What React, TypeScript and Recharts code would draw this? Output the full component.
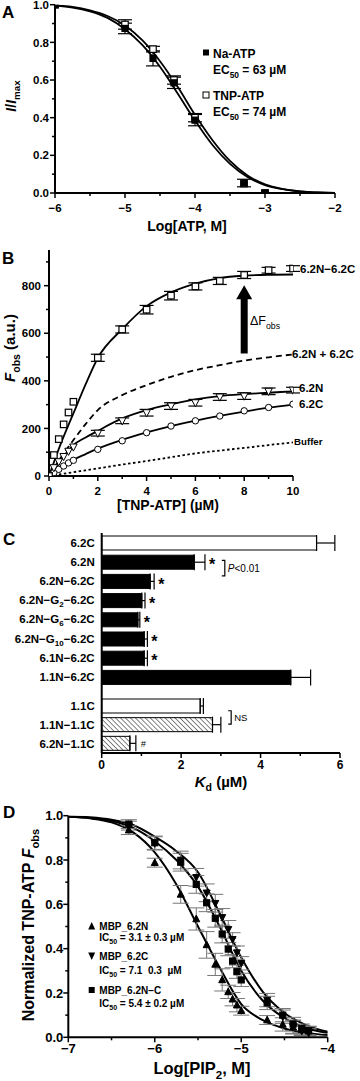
import React from "react";
import {
  ComposedChart,
  BarChart,
  Bar,
  Cell,
  Line,
  Scatter,
  XAxis,
  YAxis,
  ErrorBar,
  ReferenceLine,
  ReferenceDot,
} from "recharts";

const FONT = "'Liberation Sans', Arial, Helvetica, sans-serif";

// ---- A: current inhibition vs log[ATP] ----
const atpLog = [-6, -5, -4.6, -4.3, -4, -3.3, -3];
const naAtp = [1.0, 0.874, 0.715, 0.585, 0.387, 0.053, 0.0];
const naAtpErr = [0, 0.028, 0.04, 0.03, 0.03, 0.02, 0];
const tnpAtp = [1.0, 0.895, 0.764, 0.6, 0.4, 0.05, 0.0];
const tnpAtpErr = [0, 0.025, 0.015, 0.022, 0.022, 0, 0];
const atpFitLog = [-6, -5.75, -5.5, -5.25, -5, -4.75, -4.5, -4.25, -4, -3.75, -3.5, -3.25, -3, -2.75, -2.5, -2.25, -2];
const naAtpFit = [0.995, 0.985, 0.965, 0.93, 0.87, 0.785, 0.67, 0.53, 0.385, 0.255, 0.155, 0.085, 0.042, 0.02, 0.008, 0.003, 0.001];
const tnpAtpFit = [0.996, 0.988, 0.97, 0.94, 0.89, 0.81, 0.7, 0.565, 0.415, 0.28, 0.17, 0.093, 0.046, 0.022, 0.009, 0.003, 0.001];
const atpMajor = [-6, -5, -4, -3, -2];
const atpMajorLabels = ["\u22126", "\u22125", "\u22124", "\u22123", "\u22122"];
const atpMinor = [-5.5, -4.5, -3.5, -2.5];
const fracMajor = [0, 0.2, 0.4, 0.6, 0.8, 1.0];
const fracMajorLabels = ["0.0", "0.2", "0.4", "0.6", "0.8", "1.0"];
const fracMinor = [0.1, 0.3, 0.5, 0.7, 0.9];

// ---- B: TNP-ATP fluorescence ----
const tnpConc = [0, 0.2, 0.4, 0.6, 0.8, 1, 2, 3, 4, 5, 6, 7, 8, 9, 10];
const fused = [0, 88, 155, 217, 267, 312, 497, 616, 699, 758, 797, 820, 845, 865, 872];
const fusedErr = [0, 0, 0, 0, 0, 0, 15, 15, 18, 18, 15, 15, 15, 12, 12];
const n62 = [0, 35, 60, 82, 104, 122, 180, 232, 266, 294, 308, 332, 336, 356, 361];
const n62Err = [0, 0, 0, 0, 0, 0, 12, 12, 14, 14, 14, 14, 14, 14, 12];
const c62 = [0, 14, 28, 42, 55, 66, 112, 148, 182, 210, 232, 252, 274, 288, 302];
const fitConc = [0, 0.5, 1, 1.5, 2, 3, 4, 5, 6, 7, 8, 9, 10];
const fusedFit = [0, 140, 263, 385, 496, 617, 714, 772, 809, 832, 842, 846, 847];
const sumFit = [0, 80, 151, 218, 277, 340, 382, 417, 445, 466, 485, 499, 511];
const n62Fit = [0, 70, 130, 162, 190, 242, 277, 301, 322, 336, 344, 350, 356];
const c62Fit = [0, 36, 68, 92, 115, 152, 183, 210, 233, 253, 271, 287, 300];
const bufferFit = [0, 8, 16, 24, 32, 48, 63, 79, 95, 107, 118, 130, 141];
const concMajor = [0, 2, 4, 6, 8, 10];
const concMajorLabels = ["0", "2", "4", "6", "8", "10"];
const concMinor = [1, 3, 5, 7, 9];
const fobsMajor = [0, 200, 400, 600, 800];
const fobsMajorLabels = ["0", "200", "400", "600", "800"];
const fobsMinor = [100, 300, 500, 700, 900];
const deltaFrom = 515;
const deltaTo = 802;

// ---- C: Kd bars ----
const kdTopNames = ["6.2C", "6.2N", "6.2N\u22126.2C", "6.2N\u2212G_{2}\u22126.2C", "6.2N\u2212G_{6}\u22126.2C", "6.2N\u2212G_{10}\u22126.2C", "6.1N\u22126.2C", "1.1N\u22126.2C"];
const kdTop = [5.41, 2.33, 1.22, 1.01, 0.91, 1.07, 1.07, 4.76];
const kdTopErr = [0.46, 0.27, 0.1, 0.08, 0.05, 0.08, 0.08, 0.5];
const kdTopStyle = ["open", "solid", "solid", "solid", "solid", "solid", "solid", "solid"];
const kdTopMark = ["", "*", "*", "*", "*", "*", "*", ""];
const kdBottomNames = ["1.1C", "1.1N\u22121.1C", "6.2N\u22121.1C"];
const kdBottom = [2.48, 2.79, 0.71];
const kdBottomErr = [0.08, 0.21, 0.15];
const kdBottomStyle = ["open", "hatched", "hatched"];
const kdBottomMark = ["", "", "#"];
const kdMajor = [0, 2, 4, 6];
const kdMajorLabels = ["0", "2", "4", "6"];
const kdMinor = [1, 3, 5];

// ---- D: PIP2 competition ----
const pipLog = [-6.3, -6.0, -5.7, -5.52, -5.4, -5.3, -5.22, -5.15, -5.1, -5.05, -5.0, -4.7, -4.52, -4.4, -4.3, -4.22];
const mbpN = [0.935, 0.788, 0.645, 0.534, 0.417, 0.329, 0.259, 0.205, 0.172, 0.145, 0.12, 0.078, 0.058, 0.045, 0.034, 0.028];
const mbpNErr = [0.02, 0.02, 0.04, 0.05, 0.06, 0.05, 0.05, 0.03, 0.03, 0.03, 0.02, 0.02, 0.03, 0.03, 0.02, 0.02];
const mbpC = [0.955, 0.875, 0.8, 0.722, 0.652, 0.605, 0.541, 0.487, 0.442, 0.382, 0.334, 0.168, 0.093, 0.048, 0.028, 0.02];
const mbpCErr = [0.02, 0.03, 0.04, 0.04, 0.04, 0.04, 0.04, 0.04, 0.03, 0.03, 0.03, 0.03, 0.03, 0.03, 0.02, 0.02];
const mbpNC = [0.962, 0.878, 0.79, 0.69, 0.607, 0.537, 0.466, 0.398, 0.344, 0.296, 0.259, 0.155, 0.1, 0.06, 0.04, 0.03];
const mbpNCErr = [0.02, 0.03, 0.04, 0.04, 0.04, 0.04, 0.04, 0.03, 0.03, 0.03, 0.03, 0.03, 0.03, 0.03, 0.02, 0.02];
const pipFitLog = [-7, -6.75, -6.5, -6.25, -6, -5.75, -5.5, -5.25, -5, -4.75, -4.5, -4.25, -4];
const mbpNFit = [0.995, 0.988, 0.97, 0.925, 0.835, 0.69, 0.5, 0.315, 0.15, 0.077, 0.04, 0.02, 0.01];
const mbpCFit = [0.997, 0.993, 0.982, 0.958, 0.905, 0.84, 0.745, 0.56, 0.36, 0.205, 0.11, 0.055, 0.025];
const mbpNCFit = [0.996, 0.99, 0.976, 0.945, 0.885, 0.8, 0.68, 0.5, 0.3, 0.165, 0.087, 0.042, 0.02];
const pipMajor = [-7, -6, -5, -4];
const pipMajorLabels = ["\u22127", "\u22126", "\u22125", "\u22124"];
const pipMinor = [-6.5, -5.5, -4.5];

const pts = (xs: number[], ys: number[], es?: number[]) =>
  xs.map((x, i) => ({ x, y: ys[i], e: es ? es[i] : 0 }));

const axisLine = { stroke: "#000", strokeWidth: 2 };
const axisCommon = { tickLine: false, tickSize: 0, tickMargin: 0, axisLine, interval: 0 as const };

function xTicks(major: number[], labels: string[], size: number, dy: number, len = 5) {
  return (p: any) => {
    const i = major.indexOf(p.payload?.value);
    return (
      <g>
        <line x1={p.x} x2={p.x} y1={p.y} y2={p.y + (i >= 0 ? len : len * 0.6)} stroke="#000" strokeWidth={1.5} />
        {i >= 0 && (
          <text x={p.x} y={p.y + dy} textAnchor="middle" fontSize={size} fontWeight={700} fontFamily={FONT} fill="#000">
            {labels[i]}
          </text>
        )}
      </g>
    );
  };
}

function yTicks(major: number[], labels: string[], size: number, gap: number, len = 5) {
  return (p: any) => {
    const i = major.indexOf(p.payload?.value);
    return (
      <g>
        <line x1={p.x} x2={p.x - (i >= 0 ? len : len * 0.6)} y1={p.y} y2={p.y} stroke="#000" strokeWidth={1.5} />
        {i >= 0 && (
          <text x={p.x - gap} y={p.y + size * 0.36} textAnchor="end" fontSize={size} fontWeight={700} fontFamily={FONT} fill="#000">
            {labels[i]}
          </text>
        )}
      </g>
    );
  };
}

function CatTick(p: any) {
  const parts = String(p.payload.value).split(/_\{([^}]*)\}/);
  return (
    <text x={p.x - 7} y={p.y + 4} textAnchor="end" fontSize={11.5} fontWeight={700} fontFamily={FONT} fill="#000">
      {parts.map((s, i) =>
        i % 2 === 1 ? (
          <tspan key={i} dy={3} fontSize={8}>{s}</tspan>
        ) : (
          <tspan key={i} dy={i > 0 ? -3 : 0}>{s}</tspan>
        )
      )}
    </text>
  );
}

// marker shapes
const square = (fill: string, s = 6) => (p: any) =>
  <rect x={p.cx - s / 2} y={p.cy - s / 2} width={s} height={s} fill={fill} stroke="#000" strokeWidth={1.2} />;
const circle = (r = 3.2) => (p: any) =>
  <circle cx={p.cx} cy={p.cy} r={r} fill="#fff" stroke="#000" strokeWidth={1} />;
const triUp = (fill: string, s = 7) => (p: any) =>
  <path d={`M${p.cx},${p.cy - s * 0.55}L${p.cx + s / 2},${p.cy + s * 0.4}L${p.cx - s / 2},${p.cy + s * 0.4}Z`} fill={fill} stroke="#000" strokeWidth={1} />;
const triDown = (fill: string, s = 7) => (p: any) =>
  <path d={`M${p.cx},${p.cy + s * 0.55}L${p.cx + s / 2},${p.cy - s * 0.4}L${p.cx - s / 2},${p.cy - s * 0.4}Z`} fill={fill} stroke="#000" strokeWidth={1} />;

const arrowHead = (p: any) =>
  <path d={`M${p.cx},${p.cy}L${p.cx + 8},${p.cy + 14}L${p.cx - 8},${p.cy + 14}Z`} fill="#000" />;

const markShape = (mark: string) => (p: any) =>
  mark === "#" ? (
    <text x={p.cx + 5} y={p.cy + 3.5} fontSize={9} fontStyle="italic" fontFamily={FONT} fill="#000">#</text>
  ) : (
    <text x={p.cx + 4} y={p.cy + 8.5} fontSize={16} fontWeight={700} fontFamily={FONT} fill="#000">{mark}</text>
  );

const pBracket = (p: any) => (
  <g>
    <path d={`M${p.cx - 3},${p.cy - 1.5}H${p.cx}V${p.cy + 14}H${p.cx - 3}`} fill="none" stroke="#000" strokeWidth={1.2} />
    <text x={p.cx + 3} y={p.cy + 10.5} fontSize={10} fontFamily={FONT} fill="#000">
      <tspan fontStyle="italic">P</tspan>
      {"<0.01"}
    </text>
  </g>
);
const nsBracket = (p: any) => (
  <g>
    <path d={`M${p.cx - 3},${p.cy + 4.4}H${p.cx}V${p.cy + 17.7}H${p.cx - 3}`} fill="none" stroke="#000" strokeWidth={1.2} />
    <text x={p.cx + 3} y={p.cy + 14.5} fontSize={9.5} fontFamily={FONT} fill="#000">NS</text>
  </g>
);

const fillFor = (s: string) => (s === "open" ? "#fff" : s === "hatched" ? "url(#hatch)" : "#000");

const rows = (names: string[], kd: number[], err: number[], style: string[], mark: string[]) =>
  names.map((name, i) => ({ name, kd: kd[i], err: [0, err[i]], tip: kd[i] + err[i], kind: style[i], mark: mark[i] }));

const kdTopRows = rows(kdTopNames, kdTop, kdTopErr, kdTopStyle, kdTopMark);
const kdBottomRows = rows(kdBottomNames, kdBottom, kdBottomErr, kdBottomStyle, kdBottomMark);

const txt = { fontFamily: FONT, fontWeight: 700, fill: "#000" } as const;

function PanelA() {
  return (
    <ComposedChart width={360} height={235} margin={{ top: 4.7, right: 25, bottom: 0, left: 0 }}>
      <XAxis type="number" dataKey="x" domain={[-6, -2]} allowDataOverflow height={42}
        ticks={[...atpMajor, ...atpMinor]} tick={xTicks(atpMajor, atpMajorLabels, 11.5, 19)} {...axisCommon} />
      <YAxis type="number" dataKey="y" domain={[0, 1]} allowDataOverflow width={55}
        ticks={[...fracMajor, ...fracMinor]} tick={yTicks(fracMajor, fracMajorLabels, 11.5, 6)} {...axisCommon} />
      <Line data={pts(atpFitLog, naAtpFit)} dataKey="y" type="monotone" stroke="#000" strokeWidth={1.8} dot={false} isAnimationActive={false} />
      <Line data={pts(atpFitLog, tnpAtpFit)} dataKey="y" type="monotone" stroke="#000" strokeWidth={1.8} dot={false} isAnimationActive={false} />
      <Scatter data={pts(atpLog, tnpAtp, tnpAtpErr)} dataKey="y" shape={square("#fff", 6.5)} isAnimationActive={false}>
        <ErrorBar dataKey="e" direction="y" width={7} stroke="#000" strokeWidth={1.2} />
      </Scatter>
      <Scatter data={pts(atpLog, naAtp, naAtpErr)} dataKey="y" shape={square("#000", 6)} isAnimationActive={false}>
        <ErrorBar dataKey="e" direction="y" width={7} stroke="#000" strokeWidth={1.2} />
      </Scatter>
    </ComposedChart>
  );
}

function PanelB() {
  return (
    <ComposedChart width={360} height={261} margin={{ top: 5, right: 67, bottom: 0, left: 0 }}>
      <XAxis type="number" dataKey="x" domain={[0, 10]} allowDataOverflow height={30}
        ticks={[...concMajor, ...concMinor]} tick={xTicks(concMajor, concMajorLabels, 11.5, 19)} {...axisCommon} />
      <YAxis type="number" dataKey="y" domain={[0, 950]} allowDataOverflow width={49}
        ticks={[...fobsMajor, ...fobsMinor]} tick={yTicks(fobsMajor, fobsMajorLabels, 11.5, 8)} {...axisCommon} />
      <Line data={pts(fitConc, bufferFit)} dataKey="y" type="monotone" stroke="#000" strokeWidth={1.8} strokeDasharray="2.5 2.5" dot={false} isAnimationActive={false} />
      <Line data={pts(fitConc, sumFit)} dataKey="y" type="monotone" stroke="#000" strokeWidth={1.8} strokeDasharray="6 4" dot={false} isAnimationActive={false} />
      <Line data={pts(fitConc, c62Fit)} dataKey="y" type="monotone" stroke="#000" strokeWidth={1.8} dot={false} isAnimationActive={false} />
      <Line data={pts(fitConc, n62Fit)} dataKey="y" type="monotone" stroke="#000" strokeWidth={1.8} dot={false} isAnimationActive={false} />
      <Line data={pts(fitConc, fusedFit)} dataKey="y" type="monotone" stroke="#000" strokeWidth={1.8} dot={false} isAnimationActive={false} />
      <ReferenceLine segment={[{ x: 8, y: deltaFrom }, { x: 8, y: deltaTo - 50 }]} stroke="#000" strokeWidth={7} />
      <ReferenceDot x={8} y={deltaTo} r={2} shape={arrowHead} />
      <Scatter data={pts(tnpConc, c62)} dataKey="y" shape={circle(3.2)} isAnimationActive={false} />
      <Scatter data={pts(tnpConc, n62, n62Err)} dataKey="y" shape={triDown("#fff", 7.5)} isAnimationActive={false}>
        <ErrorBar dataKey="e" direction="y" width={7} stroke="#000" strokeWidth={1.2} />
      </Scatter>
      <Scatter data={pts(tnpConc, fused, fusedErr)} dataKey="y" shape={square("#fff", 6.5)} isAnimationActive={false}>
        <ErrorBar dataKey="e" direction="y" width={7} stroke="#000" strokeWidth={1.2} />
      </Scatter>
    </ComposedChart>
  );
}

function PanelCTop() {
  return (
    <BarChart layout="vertical" width={360} height={166} data={kdTopRows} barSize={14}
      margin={{ top: 2, right: 20, bottom: 0, left: 0 }}>
      <XAxis type="number" domain={[0, 6]} hide />
      <YAxis type="category" dataKey="name" width={101.7} padding={{ top: 0, bottom: 10.4 }} tick={CatTick} {...axisCommon} />
      <Bar dataKey="kd" stroke="#000" strokeWidth={1} isAnimationActive={false}>
        {kdTopRows.map((r, i) => <Cell key={i} fill={fillFor(r.kind)} />)}
        <ErrorBar dataKey="err" direction="x" width={8} stroke="#000" strokeWidth={1.2} />
      </Bar>
      {kdTopRows.filter((r) => r.mark).map((r) => (
        <ReferenceDot key={r.name} x={r.tip} y={r.name} r={2} shape={markShape(r.mark)} />
      ))}
      <ReferenceDot x={3.1} y={kdTopNames[1]} r={2} shape={pBracket} />
    </BarChart>
  );
}

function PanelCBottom() {
  return (
    <BarChart layout="vertical" width={360} height={99} data={kdBottomRows} barSize={14}
      margin={{ top: 0, right: 20, bottom: 0, left: 0 }}>
      <defs>
        <pattern id="hatch" width="3.5" height="3.5" patternUnits="userSpaceOnUse" patternTransform="rotate(-45)">
          <rect width="3.5" height="3.5" fill="#fff" />
          <line x1="0" y1="0" x2="0" y2="3.5" stroke="#444" strokeWidth="1.3" />
        </pattern>
      </defs>
      <XAxis type="number" domain={[0, 6]} allowDataOverflow height={43}
        ticks={[...kdMajor, ...kdMinor]} tick={xTicks(kdMajor, kdMajorLabels, 12, 16)} {...axisCommon} />
      <YAxis type="category" dataKey="name" width={101.7} tick={CatTick} {...axisCommon} />
      <Bar dataKey="kd" stroke="#000" strokeWidth={1} isAnimationActive={false}>
        {kdBottomRows.map((r, i) => <Cell key={i} fill={fillFor(r.kind)} />)}
        <ErrorBar dataKey="err" direction="x" width={8} stroke="#000" strokeWidth={1.2} />
      </Bar>
      {kdBottomRows.filter((r) => r.mark).map((r) => (
        <ReferenceDot key={r.name} x={r.tip} y={r.name} r={2} shape={markShape(r.mark)} />
      ))}
      <ReferenceDot x={3.26} y={kdBottomNames[0]} r={2} shape={nsBracket} />
    </BarChart>
  );
}

function PanelD() {
  return (
    <ComposedChart width={360} height={268} margin={{ top: 15.7, right: 32.3, bottom: 0, left: 0 }}>
      <XAxis type="number" dataKey="x" domain={[-7, -4]} allowDataOverflow height={30.7}
        ticks={[...pipMajor, ...pipMinor]} tick={xTicks(pipMajor, pipMajorLabels, 13, 16)} {...axisCommon} />
      <YAxis type="number" dataKey="y" domain={[0, 1]} allowDataOverflow width={68.3}
        ticks={[...fracMajor, ...fracMinor]} tick={yTicks(fracMajor, fracMajorLabels, 13, 5)} {...axisCommon} />
      <Line data={pts(pipFitLog, mbpNFit)} dataKey="y" type="monotone" stroke="#000" strokeWidth={2} dot={false} isAnimationActive={false} />
      <Line data={pts(pipFitLog, mbpCFit)} dataKey="y" type="monotone" stroke="#000" strokeWidth={2} dot={false} isAnimationActive={false} />
      <Line data={pts(pipFitLog, mbpNCFit)} dataKey="y" type="monotone" stroke="#000" strokeWidth={2} dot={false} isAnimationActive={false} />
      <Scatter data={pts(pipLog, mbpN, mbpNErr)} dataKey="y" shape={triUp("#000", 7)} isAnimationActive={false}>
        <ErrorBar dataKey="e" direction="y" width={8} stroke="#777" strokeWidth={1} />
      </Scatter>
      <Scatter data={pts(pipLog, mbpC, mbpCErr)} dataKey="y" shape={triDown("#000", 7)} isAnimationActive={false}>
        <ErrorBar dataKey="e" direction="y" width={8} stroke="#777" strokeWidth={1} />
      </Scatter>
      <Scatter data={pts(pipLog, mbpNC, mbpNCErr)} dataKey="y" shape={square("#000", 6)} isAnimationActive={false}>
        <ErrorBar dataKey="e" direction="y" width={8} stroke="#777" strokeWidth={1} />
      </Scatter>
    </ComposedChart>
  );
}

function Sub({ children, size }: { children: React.ReactNode; size: number }) {
  return <tspan dy={size * 0.3} fontSize={size * 0.7}>{children}</tspan>;
}

function Overlay() {
  return (
    <svg width={360} height={1081} style={{ position: "absolute", left: 0, top: 0, pointerEvents: "none" }}>
      {/* A */}
      <text x={2} y={18} fontSize={17} {...txt}>A</text>
      <text transform="translate(16,96) rotate(-90)" textAnchor="middle" fontSize={14} {...txt}>
        <tspan fontStyle="italic">I</tspan>/<tspan fontStyle="italic">I</tspan>
        <Sub size={14}>max</Sub>
      </text>
      <text x={187} y={231} textAnchor="middle" fontSize={14} {...txt}>Log[ATP, M]</text>
      <rect x={203} y={49.5} width={6} height={6} fill="#000" />
      <text x={213} y={58} fontSize={12} {...txt}>Na-ATP</text>
      <text x={213} y={74} fontSize={12} {...txt}>EC<Sub size={12}>50</Sub><tspan dy={-3.6}> = 63 µM</tspan></text>
      <rect x={203} y={92} width={6} height={6} fill="#fff" stroke="#000" strokeWidth={1} />
      <text x={213} y={100} fontSize={12} {...txt}>TNP-ATP</text>
      <text x={213} y={116} fontSize={12} {...txt}>EC<Sub size={12}>50</Sub><tspan dy={-3.6}> = 74 µM</tspan></text>

      {/* B */}
      <text x={2} y={264} fontSize={17} {...txt}>B</text>
      <text transform="translate(15,348) rotate(-90)" textAnchor="middle" fontSize={15} {...txt}>
        <tspan fontStyle="italic">F</tspan>
        <Sub size={15}>obs</Sub>
        <tspan dy={-4.5}> (a.u.)</tspan>
      </text>
      <text x={168} y={510} textAnchor="middle" fontSize={14} {...txt}>[TNP-ATP] (µM)</text>
      <text x={300} y={272.5} fontSize={11.5} {...txt}>6.2N{"\u2212"}6.2C</text>
      <text x={292} y={357.5} fontSize={11.5} {...txt}>6.2N + 6.2C</text>
      <text x={299} y={392} fontSize={11.5} {...txt}>6.2N</text>
      <text x={299} y={407.5} fontSize={11.5} {...txt}>6.2C</text>
      <text x={294} y={444.5} fontSize={9.7} {...txt}>Buffer</text>
      <text x={250} y={325} fontSize={12.5} fontFamily={FONT} fill="#000">ΔF<Sub size={12.5}>obs</Sub></text>

      {/* C */}
      <text x={3} y={545} fontSize={17} {...txt}>C</text>
      <text x={221} y={786.5} textAnchor="middle" fontSize={15} {...txt}>
        <tspan fontStyle="italic">K</tspan>
        <Sub size={15}>d</Sub>
        <tspan dy={-4.5}> (µM)</tspan>
      </text>

      {/* D */}
      <text x={3} y={818} fontSize={17} {...txt}>D</text>
      <text transform="translate(34,925) rotate(-90)" textAnchor="middle" fontSize={16} {...txt}>
        Normalized TNP-ATP <tspan fontStyle="italic">F</tspan>
        <Sub size={16}>obs</Sub>
      </text>
      <text x={202} y={1074} textAnchor="middle" fontSize={16.5} {...txt}>
        Log[PIP<Sub size={16.5}>2</Sub><tspan dy={-4.95}>, M]</tspan>
      </text>
      <path d="M91.7,922 L95.2,929.5 L88.2,929.5Z" fill="#000" />
      <text x={99.3} y={930} fontSize={10} {...txt}>MBP_6.2N</text>
      <text x={99.3} y={940.5} fontSize={10} {...txt}>IC<Sub size={10}>50</Sub><tspan dy={-3}> = 3.1 ± 0.3 µM</tspan></text>
      <path d="M91.7,960 L95.2,952.5 L88.2,952.5Z" fill="#000" />
      <text x={99.3} y={960} fontSize={10} {...txt}>MBP_6.2C</text>
      <text x={99.3} y={974} fontSize={10} {...txt} xmlSpace="preserve">IC<Sub size={10}>50</Sub><tspan dy={-3}>{" = 7.1  0.3  µM"}</tspan></text>
      <rect x={88.7} y={987} width={6} height={6} fill="#000" />
      <text x={99.3} y={993.5} fontSize={10} {...txt}>MBP_6.2N{"\u2212"}C</text>
      <text x={99.3} y={1007} fontSize={10} {...txt}>IC<Sub size={10}>50</Sub><tspan dy={-3}> = 5.4 ± 0.2 µM</tspan></text>
    </svg>
  );
}

export default function App() {
  return (
    <div style={{ position: "absolute", left: 0, top: 0, width: 360, height: 1081, background: "#fff", fontFamily: FONT }}>
      <div style={{ position: "absolute", left: 0, top: 0 }}><PanelA /></div>
      <div style={{ position: "absolute", left: 0, top: 245 }}><PanelB /></div>
      <div style={{ position: "absolute", left: 0, top: 531 }}><PanelCTop /></div>
      <div style={{ position: "absolute", left: 0, top: 697 }}><PanelCBottom /></div>
      <div style={{ position: "absolute", left: 0, top: 800 }}><PanelD /></div>
      <Overlay />
    </div>
  );
}
